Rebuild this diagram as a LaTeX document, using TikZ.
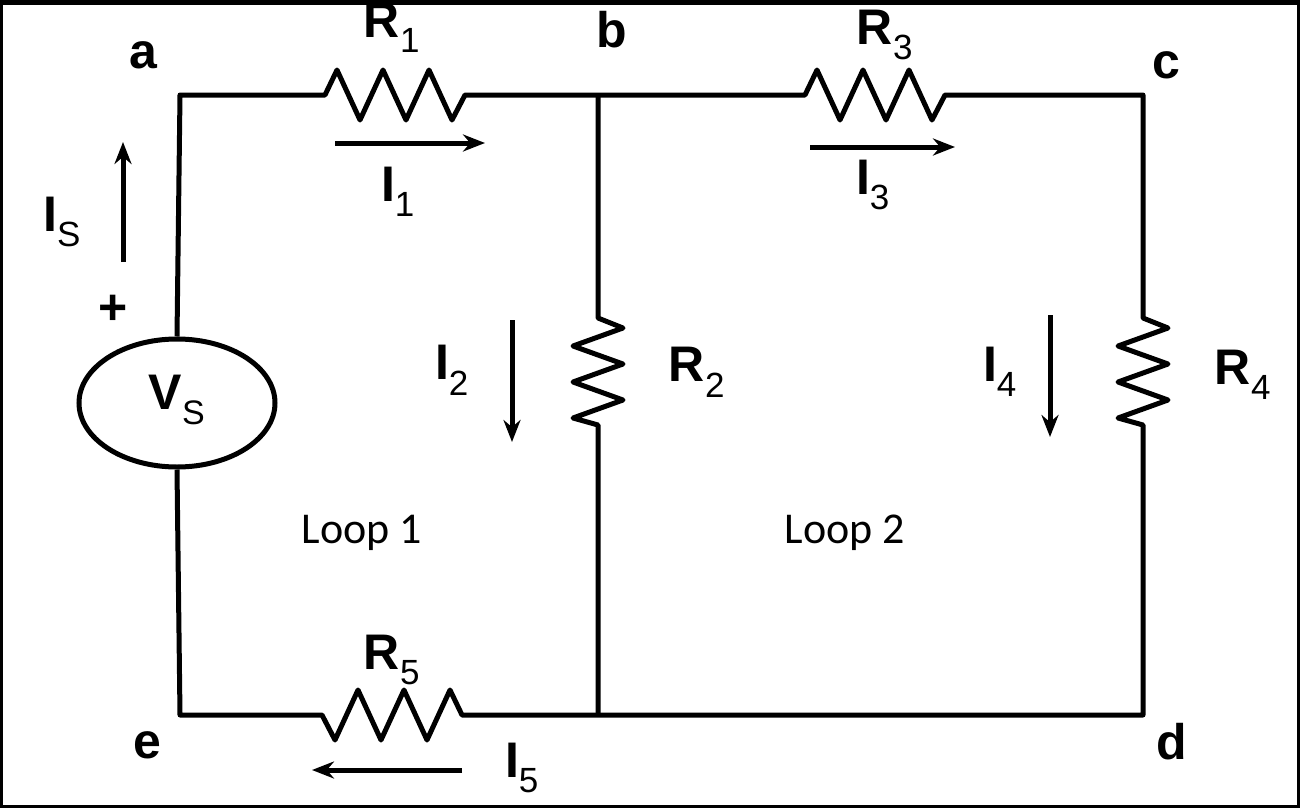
\documentclass[tikz,border=0pt]{standalone}
\usetikzlibrary{shapes.geometric,arrows.meta}
\usepackage{fontspec}
\setmainfont{Liberation Sans}
\newfontfamily\loopfont{Carlito}
\begin{document}
\begin{tikzpicture}[x=1pt,y=-1pt,
  wire/.style={line width=5pt,line join=round},
  cur/.style={line width=5pt,-{Stealth[length=22pt,width=17pt]}},
  lbl/.style={font=\bfseries\fontsize{50}{50}\selectfont},
  lp/.style={font=\loopfont\fontsize{44}{44}\selectfont}]
\useasboundingbox (0,0) rectangle (1300,808);
\fill[black] (0,0) rectangle (1300,5);
\draw[line width=3pt] (1.5,1.5) rectangle (1298.5,806.5);
\coordinate (a) at (180,95);
\coordinate (b) at (598,95);
\coordinate (c) at (1143,95);
\coordinate (d) at (1143,715);
\coordinate (e) at (180,715);
\coordinate (f) at (598,715);
\node[draw,line width=5pt,ellipse,minimum width=196,minimum height=128,inner sep=0] (vs) at (177,403) {};
\node[lbl] at (177,400) {V\textsubscript{\mdseries\fontsize{34}{34}\selectfont S}};
\draw[wire] (vs.north) -- (a) -- (325,95) -- (337,70) -- (360,120) -- (383,70) -- (406,120) -- (429,70) -- (452,120) -- (465,95) -- (b)
  -- (805,95) -- (817,70) -- (840,120) -- (863,70) -- (886,120) -- (909,70) -- (932,120) -- (945,95) -- (c)
  -- (1143,318) -- (1168,328) -- (1118,346) -- (1168,364) -- (1118,382) -- (1168,400) -- (1118,418) -- (1143,425) -- (d) -- (f)
  -- (462,715) -- (450,690) -- (427,740) -- (404,690) -- (381,740) -- (358,690) -- (335,740) -- (322,715) -- (e) -- (vs.south);
\draw[wire] (b) -- (598,318) -- (623,328) -- (573,346) -- (623,364) -- (573,382) -- (623,400) -- (573,418) -- (598,425) -- (f);
\draw[cur] (335,143) -- (485,143);
\draw[cur] (810,147) -- (955,147);
\draw[cur] (123,262) -- (123,142);
\draw[cur] (512,320) -- (512,442);
\draw[cur] (1050,315) -- (1050,437);
\draw[cur] (462,770) -- (312,770);
\node[lbl] at (143,55) {a};
\node[lbl] at (612,30) {b};
\node[lbl] at (1166,65) {c};
\node[lbl] at (1172,742) {d};
\node[lbl] at (147,745) {e};
\node[lbl] at (392,28) {R\textsubscript{\mdseries 1}};
\node[lbl] at (885,35) {R\textsubscript{\mdseries 3}};
\node[lbl] at (392,660) {R\textsubscript{\mdseries 5}};
\node[lbl] at (697,372) {R\textsubscript{\mdseries 2}};
\node[lbl] at (1243,375) {R\textsubscript{\mdseries 4}};
\node[lbl] at (398,192) {I\textsubscript{\mdseries 1}};
\node[lbl] at (873,185) {I\textsubscript{\mdseries 3}};
\node[lbl] at (62,222) {I\textsubscript{\mdseries S}};
\node[lbl] at (452,370) {I\textsubscript{\mdseries 2}};
\node[lbl] at (1000,372) {I\textsubscript{\mdseries 4}};
\node[lbl] at (522,768) {I\textsubscript{\mdseries 5}};
\node[lbl] at (113,310) {+};
\node[lp] at (362,533) {Loop 1};
\node[lp] at (845,533) {Loop 2};
\end{tikzpicture}
\end{document}
